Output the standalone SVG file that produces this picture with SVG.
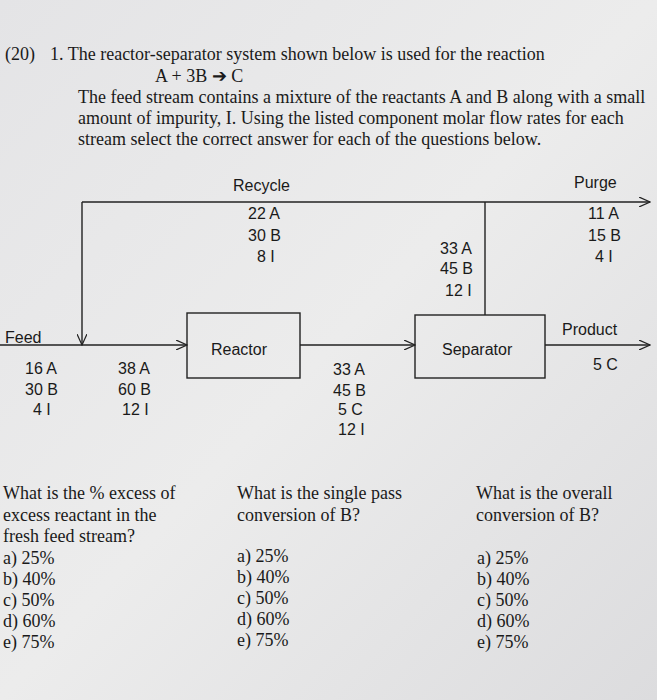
<svg xmlns="http://www.w3.org/2000/svg" width="657" height="700" viewBox="0 0 657 700">
<defs>
<linearGradient id="bg" x1="0" y1="0" x2="1" y2="1"><stop offset="0" stop-color="#e4e4e6"/><stop offset="0.5" stop-color="#ececec"/><stop offset="1" stop-color="#dcdcde"/></linearGradient>
<marker id="ar" markerWidth="12" markerHeight="10" refX="11" refY="5" orient="auto" markerUnits="userSpaceOnUse"><path d="M0,0 L11,5 L0,10" fill="none" stroke="#222" stroke-width="1.2"/></marker>
</defs>
<style>
.s{font-family:"Times New Roman","Liberation Serif",serif;font-size:18px;fill:#1a1a1a}
.a{font-family:"Liberation Sans",Arial,sans-serif;font-size:16px;fill:#1a1a1a}
.l{stroke:#222;stroke-width:1.4;fill:none}
.b{stroke:#222;stroke-width:1.4;fill:none}
</style>
<rect width="657" height="700" fill="url(#bg)"/>
<g id="problem" class="s">
<text x="5" y="60">(20)</text>
<text x="50" y="60">1.  The reactor-separator system shown below is used for the reaction</text>
<text x="155" y="82">A + 3B ➔ C</text>
<text x="78" y="103">The feed stream contains a mixture of the reactants A and B along with a small</text>
<text x="78" y="124">amount of impurity, I. Using the listed component molar flow rates for each</text>
<text x="78" y="145">stream select the correct answer for each of the questions below.</text>
</g>
<g id="connectors">
<path class="l" d="M82,202 H650" marker-end="url(#ar)"/>
<path class="l" d="M82,202 V345" marker-end="url(#ar)"/>
<path class="l" d="M485,202 V315"/>
<path class="l" d="M0,345 H187" marker-end="url(#ar)"/>
<path class="l" d="M300,345 H415" marker-end="url(#ar)"/>
<path class="l" d="M545,345 H650" marker-end="url(#ar)"/>
</g>
<g id="reactor"><rect class="b" x="187" y="313" width="113" height="65"/><text class="a" x="211" y="355">Reactor</text></g>
<g id="separator"><rect class="b" x="415" y="315" width="130" height="63"/><text class="a" x="442" y="355">Separator</text></g>
<g id="labels" class="a">
<text x="233" y="191">Recycle</text>
<text x="574" y="188">Purge</text>
<text x="248" y="219">22 A</text><text x="248" y="241">30 B</text><text x="257" y="262">8 I</text>
<text x="588" y="219">11 A</text><text x="588" y="241">15 B</text><text x="595" y="262">4 I</text>
<text x="440" y="254">33 A</text><text x="440" y="274">45 B</text><text x="445" y="296">12 I</text>
<text x="5" y="343">Feed</text>
<text x="25" y="374">16 A</text><text x="25" y="395">30 B</text><text x="33" y="415">4 I</text>
<text x="118" y="374">38 A</text><text x="118" y="395">60 B</text><text x="122" y="415">12 I</text>
<text x="333" y="375">33 A</text><text x="333" y="396">45 B</text><text x="338" y="415">5 C</text><text x="338" y="435">12 I</text>
<text x="562" y="335">Product</text>
<text x="593" y="370">5 C</text>
</g>
<g id="questions" class="s">
<text x="3" y="499">What is the % excess of</text>
<text x="3" y="521">excess reactant in the</text>
<text x="3" y="542">fresh feed stream?</text>
<text x="3" y="564">a) 25%</text><text x="3" y="585">b) 40%</text><text x="3" y="606">c) 50%</text><text x="3" y="627">d) 60%</text><text x="3" y="648">e) 75%</text>
<text x="237" y="499">What is the single pass</text>
<text x="237" y="521">conversion of B?</text>
<text x="237" y="562">a) 25%</text><text x="237" y="583">b) 40%</text><text x="237" y="604">c) 50%</text><text x="237" y="625">d) 60%</text><text x="237" y="646">e) 75%</text>
<text x="476" y="499">What is the overall</text>
<text x="476" y="521">conversion of B?</text>
<text x="477" y="564">a) 25%</text><text x="477" y="585">b) 40%</text><text x="477" y="606">c) 50%</text><text x="477" y="627">d) 60%</text><text x="477" y="648">e) 75%</text>
</g>
</svg>
